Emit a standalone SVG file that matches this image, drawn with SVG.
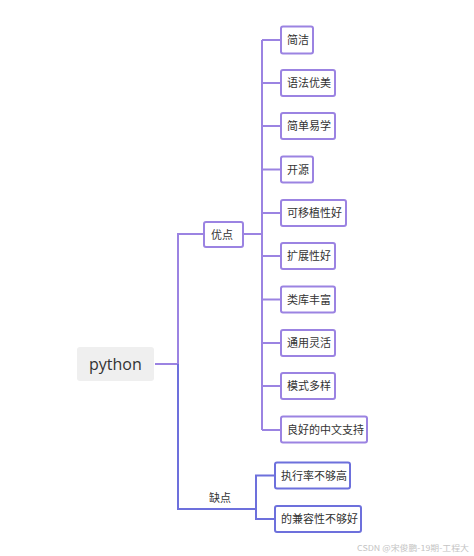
<svg xmlns="http://www.w3.org/2000/svg" width="474" height="556" viewBox="0 0 474 556">
<style>
.t{font-family:"Noto Sans CJK SC","Liberation Sans",sans-serif;font-size:11px;fill:#333}
.box{fill:#fff;stroke:#9b83e2;stroke-width:2}
.boxb{fill:#fff;stroke:#6d70dc;stroke-width:2}
.lp{fill:none;stroke:#9b83e2;stroke-width:2}
.lb{fill:none;stroke:#6d70dc;stroke-width:2}
</style>
<rect width="474" height="556" fill="#fff"/>
<g id="connectors">
<path class="lp" d="M155,364 H178 V234 H204"/>
<path class="lb" d="M178,364 V509 H256"/>
<path class="lp" d="M243,234 H262"/>
<path class="lp" d="M262,40 V430"/>
<path class="lp" d="M262,40 H281 M262,83 H281 M262,126 H281 M262,169.5 H281 M262,213 H281 M262,256 H281 M262,299.5 H281 M262,343 H281 M262,386 H281 M262,430 H281"/>
<path class="lb" d="M256,509 V475.5 H275 M256,509 V519 H275"/>
</g>
<g id="python">
<rect x="77" y="347" width="77" height="34" rx="3" fill="#efefef"/>
<text x="89" y="370" style="font-family:'Open Sans','Liberation Sans',sans-serif;font-size:16px;fill:#333">python</text>
</g>
<g id="youdian">
<rect class="box" x="204" y="222" width="39" height="25" rx="2"/>
<text class="t" x="211" y="238.5">优点</text>
</g>
<g id="quedian">
<text class="t" x="209" y="502">缺点</text>
</g>
<g id="n1"><rect class="box" x="281" y="26.5" width="32" height="27" rx="2"/><text class="t" x="287" y="44">简洁</text></g>
<g id="n2"><rect class="box" x="281" y="70" width="54" height="26" rx="2"/><text class="t" x="287" y="87">语法优美</text></g>
<g id="n3"><rect class="box" x="281" y="113" width="54" height="26" rx="2"/><text class="t" x="287" y="130">简单易学</text></g>
<g id="n4"><rect class="box" x="281" y="156.5" width="32" height="26" rx="2"/><text class="t" x="287" y="173.5">开源</text></g>
<g id="n5"><rect class="box" x="281" y="200" width="65" height="26" rx="2"/><text class="t" x="287" y="217">可移植性好</text></g>
<g id="n6"><rect class="box" x="281" y="243" width="54" height="26" rx="2"/><text class="t" x="287" y="260">扩展性好</text></g>
<g id="n7"><rect class="box" x="281" y="286.5" width="54" height="26" rx="2"/><text class="t" x="287" y="303.5">类库丰富</text></g>
<g id="n8"><rect class="box" x="281" y="330" width="54" height="26" rx="2"/><text class="t" x="287" y="347">通用灵活</text></g>
<g id="n9"><rect class="box" x="281" y="373" width="54" height="26" rx="2"/><text class="t" x="287" y="390">模式多样</text></g>
<g id="n10"><rect class="box" x="281" y="416.5" width="86" height="26" rx="2"/><text class="t" x="287" y="433.5">良好的中文支持</text></g>
<g id="n11"><rect class="boxb" x="275" y="462.5" width="75" height="26" rx="2"/><text class="t" x="281" y="479.5">执行率不够高</text></g>
<g id="n12"><rect class="boxb" x="275" y="506" width="86" height="26" rx="2"/><text class="t" x="281" y="523">的兼容性不够好</text></g>
<text x="357" y="551" textLength="112" lengthAdjust="spacingAndGlyphs" style="font-family:'Noto Sans CJK SC','Liberation Sans',sans-serif;font-size:8px;fill:#c4c4c4">CSDN @宋俊鹏-19期-工程大</text>
</svg>
